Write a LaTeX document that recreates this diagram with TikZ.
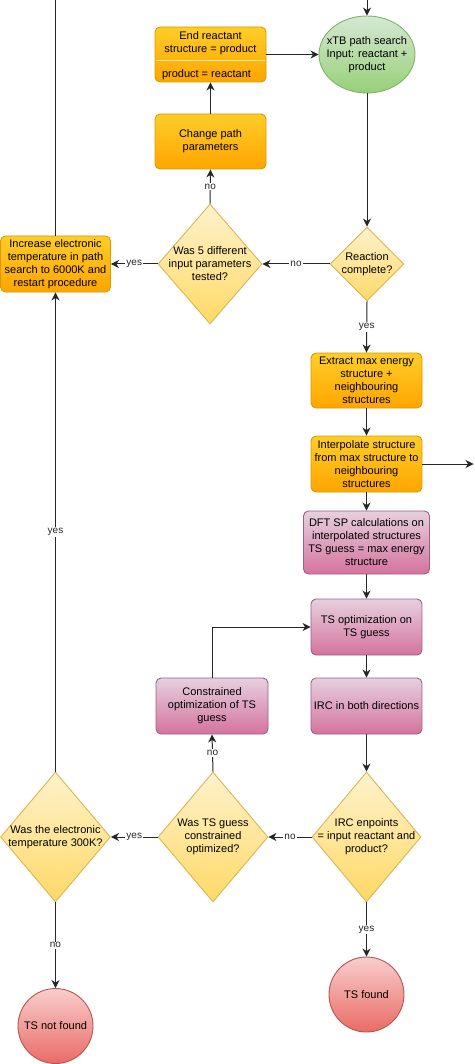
\documentclass[tikz,border=0pt]{standalone}
\usepackage{fontspec}
\setmainfont{Liberation Sans}
\usetikzlibrary{shapes.geometric,arrows.meta}
\definecolor{oTop}{HTML}{FFCD28}
\definecolor{oBot}{HTML}{FFA500}
\definecolor{oLine}{HTML}{D79B00}
\definecolor{dTop}{HTML}{FFF2CC}
\definecolor{dBot}{HTML}{FFD966}
\definecolor{dLine}{HTML}{D6B656}
\definecolor{pTop}{HTML}{E6D0DE}
\definecolor{pBot}{HTML}{D5739D}
\definecolor{pLine}{HTML}{996185}
\definecolor{rTop}{HTML}{F8CECC}
\definecolor{rBot}{HTML}{EA6B66}
\definecolor{rLine}{HTML}{B85450}
\definecolor{gTop}{HTML}{D5E8D4}
\definecolor{gBot}{HTML}{97D077}
\definecolor{gLine}{HTML}{82B366}
\tikzset{
  every node/.style={font=\fontsize{11}{13}\selectfont, text=black},
  base/.style={draw, line width=0.9pt, inner sep=0pt, align=center},
  obox/.style={base, rectangle, rounded corners=5pt, minimum width=111pt, minimum height=55pt, top color=oTop, bottom color=oBot, draw=oLine},
  pbox/.style={base, rectangle, rounded corners=5pt, minimum width=111pt, minimum height=56pt, top color=pTop, bottom color=pBot, draw=pLine},
  dia/.style={base, diamond, top color=dTop, bottom color=dBot, draw=dLine},
  rcirc/.style={base, circle, minimum size=75pt, top color=rTop, bottom color=rBot, draw=rLine},
  gell/.style={base, ellipse, minimum width=96pt, minimum height=77pt, top color=gTop, bottom color=gBot, draw=gLine},
  txt/.style={align=center, inner sep=0pt},
  lab/.style={font=\fontsize{10}{12}\selectfont, fill=white, inner sep=1pt, text=black!85},
  ln/.style={line width=1pt, draw=black!85},
  arr/.style={ln, -{Stealth[length=8pt,width=8pt,inset=2.5pt]}},
}
\begin{document}
\begin{tikzpicture}[x=1pt,y=-1pt]
\useasboundingbox (0,0) rectangle (474,1064);
% nodes
\node[gell] (xtb) at (367,54.5) {};
\node[txt] (xtbt) at (xtb) {xTB path search\\Input: reactant +\\product};
\node[obox] (endr) at (210.5,54.5) {};
\draw[white!55!oTop, line width=1pt] ([xshift=1pt,yshift=-6.5pt]endr.west) -- ([xshift=-1pt,yshift=-6.5pt]endr.east);
\node[txt] (endra) at (210.5,43) {End reactant\\structure = product};
\node[txt] (endrb) at (206.5,75) {product = reactant};
\node[obox] (chg) at (210.5,141.5) {Change path\\parameters};
\node[dia, minimum width=104pt, minimum height=120pt] (d5) at (210,264) {};
\node[txt] (d5t) at (d5) {Was 5 different\\input parameters\\tested?};
\node[dia, minimum width=74pt, minimum height=74pt] (drc) at (367,264) {};
\node[txt] (drct) at (drc) {Reaction\\complete?};
\node[obox, minimum width=110pt, minimum height=56pt] (inc) at (55.5,264) {Increase electronic\\temperature in path\\search to 6000K and\\restart procedure};
\node[obox] (ext) at (366.5,380.5) {Extract max energy\\structure +\\neighbouring\\structures};
\node[obox, minimum height=56pt] (intp) at (366.5,464) {Interpolate structure\\from max structure to\\neighbouring\\structures};
\node[pbox, minimum width=126pt, minimum height=63pt] (dft) at (366.5,542.5) {DFT SP calculations on\\interpolated structures\\TS guess = max energy\\structure};
\node[pbox] (tso) at (366.5,627) {TS optimization on\\TS guess};
\node[pbox] (irc) at (366.5,706) {IRC in both directions};
\node[pbox, minimum width=112pt] (con) at (212,706) {Constrained\\optimization of TS\\guess};
\node[dia, minimum width=109pt, minimum height=130pt] (dirc) at (366.5,837) {};
\node[txt] (dirct) at (dirc) {IRC enpoints\\= input reactant and\\product?};
\node[dia, minimum width=110pt, minimum height=130pt] (dts) at (213,837) {};
\node[txt] (dtst) at (dts) {Was TS guess\\constrained\\optimized?};
\node[dia, minimum width=110pt, minimum height=130pt] (del) at (55.5,837) {};
\node[txt] (delt) at (del) {Was the electronic\\temperature 300K?};
\node[rcirc] (notf) at (55.5,1026) {TS not found};
\node[rcirc] (found) at (366.5,994.5) {TS found};
\coordinate (topin) at (367,0);
\coordinate (topout) at (55.5,0);
\coordinate (rightout) at (473.5,464);
% connectors
\draw[arr] (topin) -- (xtb.north);
\draw[arr] (endr.east) -- (xtb.west);
\draw[arr] (chg.north) -- (endr.south);
\draw[arr] (d5.north) -- node[lab] {no} (chg.south);
\draw[arr] (xtb.south) -- (drc.north);
\draw[arr] (drc.west) -- node[lab] {no} (d5.east);
\draw[arr] (d5.west) -- node[lab] {yes} (inc.east);
\draw[ln] (inc.north) -- (topout);
\draw[arr] (del.north) -- node[lab] {yes} (inc.south);
\draw[arr] (drc.south) -- node[lab] {yes} (ext.north);
\draw[arr] (ext.south) -- (intp.north);
\draw[arr] (intp.east) -- (rightout);
\draw[arr] (intp.south) -- (dft.north);
\draw[arr] (dft.south) -- (tso.north);
\draw[arr] (tso.south) -- (irc.north);
\draw[arr] (con.north) |- (tso.west);
\draw[arr] (irc.south) -- (dirc.north);
\draw[arr] (dirc.west) -- node[lab] {no} (dts.east);
\draw[arr] (dts.north) -- node[lab] {no} (con.south);
\draw[arr] (dts.west) -- node[lab] {yes} (del.east);
\draw[arr] (del.south) -- node[lab] {no} (notf.north);
\draw[arr] (dirc.south) -- node[lab] {yes} (found.north);
\end{tikzpicture}
\end{document}
